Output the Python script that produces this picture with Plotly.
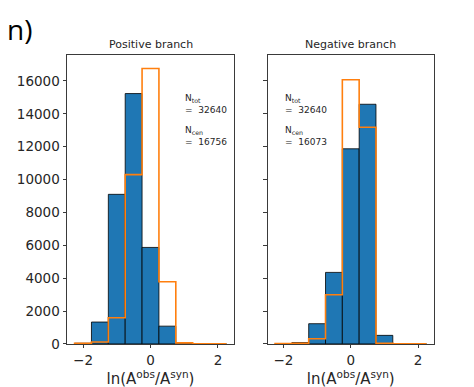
import plotly.graph_objects as go

bin_centers = [-2.0, -1.5, -1.0, -0.5, 0.0, 0.5, 1.0, 1.5, 2.0]
bin_edges = [-2.25, -1.75, -1.25, -0.75, -0.25, 0.25, 0.75, 1.25, 1.75, 2.25]

pos_total = [40, 1330, 9100, 15230, 5870, 1080, 0, 0, 0]
pos_cen = [30, 120, 1590, 10300, 16756, 3780, 60, 5, 0]
neg_total = [10, 80, 1230, 4350, 11870, 14580, 520, 0, 0]
neg_cen = [20, 30, 315, 2990, 16073, 13180, 30, 2, 0]

titles = ["Positive branch", "Negative branch"]
n_tot = [32640, 32640]
n_cen = [16756, 16073]
xlabel = "ln(A<sup>obs</sup>/A<sup>syn</sup>)"
x_ticks = [-2, 0, 2]
y_ticks = [0, 2000, 4000, 6000, 8000, 10000, 12000, 14000, 16000]

W, H = 474, 387
BLUE = "#1f77b4"
ORANGE = "#ff7f0e"
AX = "#3a3a3a"
TXT = "#262626"
FONT = "DejaVu Sans"

fig = go.Figure()

def px_x(p):
    return p / W

def px_y(p):
    return 1 - p / H

dom_left = [px_x(59), px_x(226)]
dom_right = [px_x(259.5), px_x(426)]
dom_y = [px_y(343), px_y(47.7)]

for i, (tot, cen) in enumerate([(pos_total, pos_cen), (neg_total, neg_cen)]):
    xa = "x" if i == 0 else "x2"
    ya = "y" if i == 0 else "y2"
    fig.add_trace(go.Bar(
        x=bin_centers, y=tot, width=0.5, xaxis=xa, yaxis=ya,
        marker=dict(color=BLUE, line=dict(color="black", width=0.8)),
        showlegend=False, hoverinfo="skip"))
    sx = [bin_edges[0]] + bin_edges[:-1] + [bin_edges[-1]]
    sy = [0] + cen + [0]
    fig.add_trace(go.Scatter(
        x=sx, y=sy, mode="lines", line=dict(color=ORANGE, width=1.6, shape="hv"),
        xaxis=xa, yaxis=ya, showlegend=False, hoverinfo="skip"))

ymax = max(max(pos_cen), max(neg_cen), max(pos_total), max(neg_total)) * 1.05
xr = [-2.475, 2.475]

common_x = dict(range=xr, tickvals=x_ticks, showline=True, mirror=True,
                linecolor=AX, linewidth=1, ticks="outside", ticklen=3.5,
                tickwidth=1, tickcolor=AX, showgrid=False, zeroline=False,
                tickfont=dict(family=FONT, size=13.5, color=TXT),
                title=dict(text=xlabel, font=dict(family=FONT, size=15, color=TXT), standoff=3))
common_y = dict(range=[0, ymax], tickvals=y_ticks, tickformat="d", showline=True, mirror=True,
                linecolor=AX, linewidth=1, ticks="outside", ticklen=3.5,
                tickwidth=1, tickcolor=AX, showgrid=False, zeroline=False,
                tickfont=dict(family=FONT, size=13.5, color=TXT))

fig.update_layout(
    width=W, height=H, margin=dict(l=0, r=0, t=0, b=0),
    paper_bgcolor="white", plot_bgcolor="white", barmode="overlay",
    xaxis=dict(domain=dom_left, anchor="y", **common_x),
    yaxis=dict(domain=dom_y, anchor="x", **common_y),
    xaxis2=dict(domain=dom_right, anchor="y2", **common_x),
    yaxis2=dict(domain=dom_y, anchor="x2", showticklabels=False, **common_y),
)

anns = []
for i, dom in enumerate([dom_left, dom_right]):
    anns.append(dict(text=titles[i], xref="paper", yref="paper",
                     x=(dom[0] + dom[1]) / 2, y=px_y(37.5), xanchor="center", yanchor="middle",
                     showarrow=False, font=dict(family=FONT, size=11, color=TXT)))
tx = [175, 275]
for i in range(2):
    anns.append(dict(text=f"N<sub>tot</sub><br>=  {n_tot[i]}", xref="paper", yref="paper",
                     x=px_x(tx[i]), y=px_y(85), xanchor="left", yanchor="top", align="left",
                     showarrow=False, font=dict(family=FONT, size=9, color=TXT)))
    anns.append(dict(text=f"N<sub>cen</sub><br>=  {n_cen[i]}", xref="paper", yref="paper",
                     x=px_x(tx[i]), y=px_y(117), xanchor="left", yanchor="top", align="left",
                     showarrow=False, font=dict(family=FONT, size=9, color=TXT)))
anns.append(dict(text="n)", xref="paper", yref="paper", x=px_x(-3), y=px_y(21),
                 xanchor="left", yanchor="middle", showarrow=False,
                 font=dict(family="Open Sans", size=28, color="black")))
fig.update_layout(annotations=anns)

fig.write_html("out.html")
